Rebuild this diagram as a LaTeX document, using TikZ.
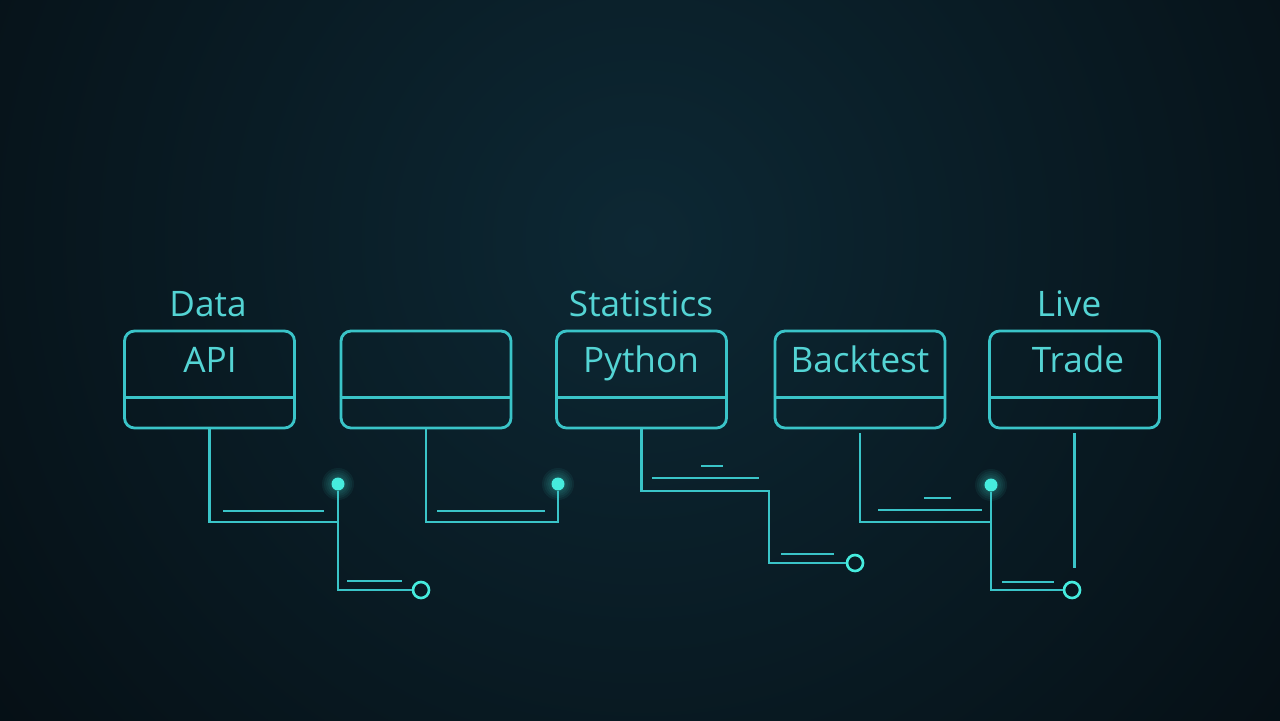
\documentclass[tikz,border=0pt]{standalone}
\usepackage{fontspec}
\setmainfont{Open Sans}
\definecolor{bgcore}{RGB}{13,40,52}
\definecolor{bgedge}{RGB}{3,8,12}
\definecolor{wirecyan}{RGB}{58,196,200}
\definecolor{textcyan}{RGB}{84,212,212}
\definecolor{dotcyan}{RGB}{70,236,222}

\begin{document}
\begin{tikzpicture}[x=0.02cm, y=-0.02cm,
    stage/.style={rectangle, draw=wirecyan, line width=1.6pt, rounded corners=0.2cm, minimum width=3.4cm, minimum height=1.94cm},
    stagetext/.style={anchor=base, text=textcyan, font=\fontsize{20}{22}\selectfont},
    wire/.style={wirecyan, line width=1.6pt},
    trace/.style={wirecyan, line width=1.3pt},
    dot/.style={circle, fill=dotcyan, inner sep=0pt, minimum size=0.26cm},
    ring/.style={circle, draw=dotcyan, line width=1.5pt, inner sep=0pt, minimum size=0.32cm},
    glow/.style={fill=dotcyan, opacity=0.06}
]
    % Background
    \fill[bgedge] (0,0) rectangle (1280,720);
    \begin{scope}
        \clip (0,0) rectangle (1280,720);
        \shade[inner color=bgcore, outer color=bgedge] (640,240) circle (1050);
    \end{scope}
    \useasboundingbox (0,0) rectangle (1280,720);

    % Stages
    \node[stage] (api) at (209.5,379.5) {};
    \node[stage] (blank) at (426,379.5) {};
    \node[stage] (python) at (641.5,379.5) {};
    \node[stage] (backtest) at (860,379.5) {};
    \node[stage] (trade) at (1074.5,379.5) {};
    \foreach \s in {api,blank,python,backtest,trade}
        \draw[wire] ([yshift=0.64cm]\s.south west) -- ([yshift=0.64cm]\s.south east);

    % Texts
    \node[stagetext] (apitxt) at (210,372) {API};
    \node[stagetext] (pythontxt) at (641,372) {Python};
    \node[stagetext] (backtesttxt) at (860,372) {Backtest};
    \node[stagetext] (tradetxt) at (1078,372) {Trade};
    \node[stagetext] (datatitle) at (208,316) {Data};
    \node[stagetext] (statstitle) at (641,316) {Statistics};
    \node[stagetext] (livetitle) at (1069,316) {Live};

    % Dots and rings
    \node[dot] (d1) at (338,484) {};
    \node[dot] (d2) at (558,484) {};
    \node[dot] (d4) at (991,485) {};
    \node[ring] (r1) at (421,590) {};
    \node[ring] (r3) at (855,563) {};
    \node[ring] (r4) at (1072,590) {};
    \foreach \d in {d1,d2,d4}
        \foreach \r in {8,10,12,14,16}
            \fill[glow] (\d) circle (\r);

    % Connectors
    \coordinate (j1) at (338,522);
    \coordinate (j2) at (558,522);
    \coordinate (j3) at (769,491);
    \coordinate (j4) at (991,522);
    \coordinate (e5) at (1074,568);
    \draw[wire] (api.south) |- (j1);
    \draw[wire] (d1) |- (r1);
    \draw[wire] (blank.south) |- (j2) -- (d2);
    \draw[wire] (python.south) |- (j3) |- (r3);
    \draw[wire, shorten <=0.08cm] (backtest.south) |- (j4);
    \draw[wire] (d4) |- (r4);
    \draw[wire, shorten <=0.08cm] (trade.south) -- (trade.south |- e5);

    % Short traces
    \foreach \xa/\xb/\y in {223/324/511, 347/402/581, 437/545/511, 652/759/478, 701/723/466,
                            781/834/554, 878/982/510, 924/951/498, 1002/1054/582}
        \draw[trace] (\xa,\y) -- (\xb,\y);
\end{tikzpicture}
\end{document}
